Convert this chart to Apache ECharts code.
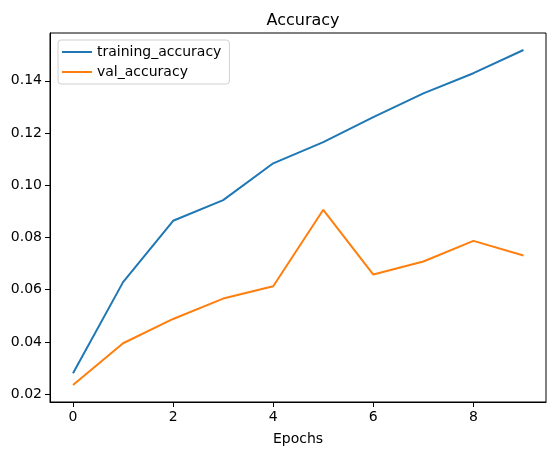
<!DOCTYPE html>
<html><head><meta charset="utf-8">
<title>Accuracy</title>
<script src="https://cdn.jsdelivr.net/npm/echarts@6/dist/echarts.min.js"></script>
<style>
  html, body { margin: 0; padding: 0; background: #fff; }
  #chart { width: 556px; height: 455px; }
</style>
</head>
<body>
<div id="chart"></div>
<script>
// values
var epochs = [0, 1, 2, 3, 4, 5, 6, 7, 8, 9];
var trainingAccuracy = [0.0280, 0.0629, 0.0864, 0.0943, 0.1084, 0.1165, 0.1261, 0.1352, 0.1429, 0.1518];
var valAccuracy = [0.0235, 0.0395, 0.0488, 0.0566, 0.0613, 0.0906, 0.0658, 0.0708, 0.0787, 0.0731];
var xTicks = [0, 2, 4, 6, 8];
var yTicks = [0.02, 0.04, 0.06, 0.08, 0.10, 0.12, 0.14];

function pairs(ys) {
  return epochs.map(function (e, i) { return [e, ys[i]]; });
}

var font = 'DejaVu Sans';
var chart = echarts.init(document.getElementById('chart'));

chart.setOption({
  animation: false,
  title: {
    text: 'Accuracy',
    left: 298, top: 8, textAlign: 'center',
    textStyle: { fontFamily: font, fontSize: 16, fontWeight: 'normal', color: '#000' }
  },
  legend: {
    orient: 'vertical',
    left: 58, top: 40,
    padding: [5, 8, 5, 4],
    itemWidth: 30, itemHeight: 2, itemGap: 6,
    icon: 'rect',
    backgroundColor: '#fff',
    borderColor: '#d0d0d0', borderWidth: 1, borderRadius: 3,
    textStyle: { fontFamily: font, fontSize: 14, color: '#000' },
    data: ['training_accuracy', 'val_accuracy']
  },
  grid: {
    left: 50, right: 10, top: 33, bottom: 53,
    show: true, borderColor: '#000', borderWidth: 1
  },
  xAxis: {
    type: 'value',
    min: -0.46, max: 9.45,
    name: 'Epochs', nameLocation: 'middle', nameGap: 30,
    nameTextStyle: { fontFamily: font, fontSize: 14, color: '#000' },
    axisLine: { show: true, onZero: false, lineStyle: { color: '#000' } },
    axisTick: { show: true, length: 5, customValues: xTicks, lineStyle: { color: '#000' } },
    axisLabel: { customValues: xTicks, margin: 8, fontFamily: font, fontSize: 14, color: '#000' },
    splitLine: { show: false }
  },
  yAxis: {
    type: 'value',
    min: 0.0170, max: 0.1583,
    axisLine: { show: true, onZero: false, lineStyle: { color: '#000' } },
    axisTick: { show: true, length: 5, customValues: yTicks, lineStyle: { color: '#000' } },
    axisLabel: {
      customValues: yTicks, margin: 8, fontFamily: font, fontSize: 14, color: '#000',
      formatter: function (v) { return v.toFixed(2); }
    },
    splitLine: { show: false }
  },
  series: [
    {
      name: 'training_accuracy', type: 'line',
      data: pairs(trainingAccuracy),
      showSymbol: false,
      color: '#1f77b4',
      lineStyle: { width: 2 }
    },
    {
      name: 'val_accuracy', type: 'line',
      data: pairs(valAccuracy),
      showSymbol: false,
      color: '#ff7f0e',
      lineStyle: { width: 2 }
    }
  ]
});
</script>
</body></html>
